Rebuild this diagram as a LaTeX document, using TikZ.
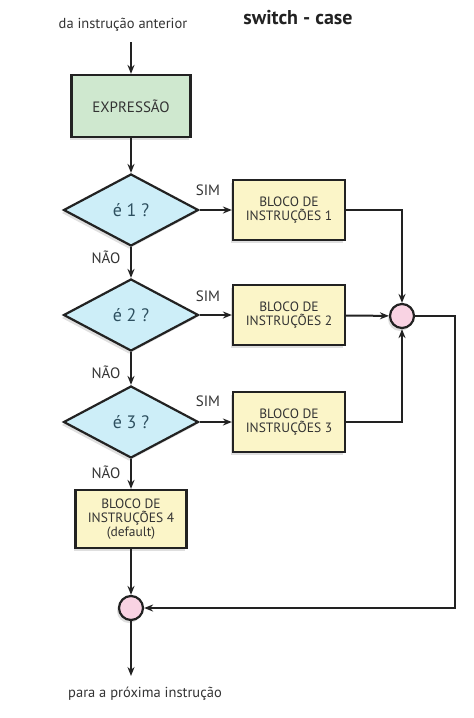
\documentclass[tikz,border=0pt]{standalone}
\usepackage{fontspec}
\setmainfont{PT Sans}
\usetikzlibrary{shapes.geometric,arrows.meta,shadows}
\definecolor{linec}{HTML}{222222}
\definecolor{greenf}{HTML}{CFE8CF}
\definecolor{yellowf}{HTML}{FBF5C8}
\definecolor{bluef}{HTML}{CDEEF8}
\definecolor{pinkf}{HTML}{F9D3E3}
\definecolor{textc}{HTML}{333333}
\definecolor{dtext}{HTML}{2E5060}
\tikzset{
  shad/.style={drop shadow={opacity=0.25,shadow xshift=-2pt,shadow yshift=-3pt}},
  procbox/.style={draw=linec,line width=2.2pt,fill=yellowf,align=center,inner sep=0pt,
    text=textc,font=\fontsize{13.5}{14}\selectfont,shad},
  exprbox/.style={procbox,fill=greenf,minimum width=119pt,minimum height=62pt,font=\fontsize{15}{16}\selectfont},
  decision/.style={diamond,draw=linec,line width=2.2pt,fill=bluef,minimum width=135pt,
    minimum height=72pt,aspect=1.875,inner sep=0pt,text=dtext,font=\fontsize{18}{19}\selectfont,shad},
  junction/.style={circle,draw=linec,line width=2.2pt,fill=pinkf,minimum size=24pt,inner sep=0pt,shad},
  conn/.style={draw=linec,line width=2pt},
  arr/.style={conn,-{Stealth[length=9pt,width=7pt]}},
  lbl/.style={text=textc,font=\fontsize{15}{16}\selectfont},
}
\begin{document}
\begin{tikzpicture}[x=1pt,y=-1pt]
\useasboundingbox (0,0) rectangle (474,718);
\node[font=\bfseries\fontsize{20}{22}\selectfont,text=linec] (title) at (298,18) {switch - case};
\node[lbl,font=\fontsize{14.5}{15}\selectfont] (start) at (123,25) {da instrução anterior};
\coordinate (in) at (131,42);
\node[exprbox] (expr) at (131,106) {EXPRESSÃO};
\node[decision] (d1) at (131,210) {é 1 ?};
\node[decision] (d2) at (131,315) {é 2 ?};
\node[decision] (d3) at (131,422) {é 3 ?};
\node[procbox,minimum width=112pt,minimum height=60pt] (b1) at (289,210) {BLOCO DE\\INSTRUÇÕES 1};
\node[procbox,minimum width=112pt,minimum height=60pt] (b2) at (289,315) {BLOCO DE\\INSTRUÇÕES 2};
\node[procbox,minimum width=112pt,minimum height=60pt] (b3) at (289,422) {BLOCO DE\\INSTRUÇÕES 3};
\node[procbox,minimum width=111pt,minimum height=58pt] (b4) at (131,519) {BLOCO DE\\INSTRUÇÕES 4\\(default)};
\node[junction] (m1) at (402,316) {};
\node[junction] (m2) at (131,608) {};
\coordinate (rc) at (455,316);
\coordinate (out) at (131,676);
\node[lbl,font=\fontsize{14.5}{15}\selectfont] (end) at (145,694) {para a próxima instrução};
\node[lbl] (s1) at (208,190) {SIM};
\node[lbl] (s2) at (208,296) {SIM};
\node[lbl] (s3) at (208,401) {SIM};
\node[lbl] (n1) at (106,257) {NÃO};
\node[lbl] (n2) at (106,372) {NÃO};
\node[lbl] (n3) at (106,472) {NÃO};
\draw[arr] (in) -- (expr);
\draw[arr] (expr) -- (d1);
\draw[arr] (d1) -- (d2);
\draw[arr] (d2) -- (d3);
\draw[arr] (d3) -- (b4);
\draw[arr] (b4) -- (m2);
\draw[arr] (m2) -- (out);
\draw[arr] (d1) -- (b1);
\draw[arr] (d2) -- (b2);
\draw[arr] (d3) -- (b3);
\draw[arr] (b1.east) -| (m1.north);
\draw[arr] (b2) -- (m1);
\draw[arr] (b3.east) -| (m1.south);
\draw[arr] (m1.east) -- (rc) |- (m2.east);
\end{tikzpicture}
\end{document}
